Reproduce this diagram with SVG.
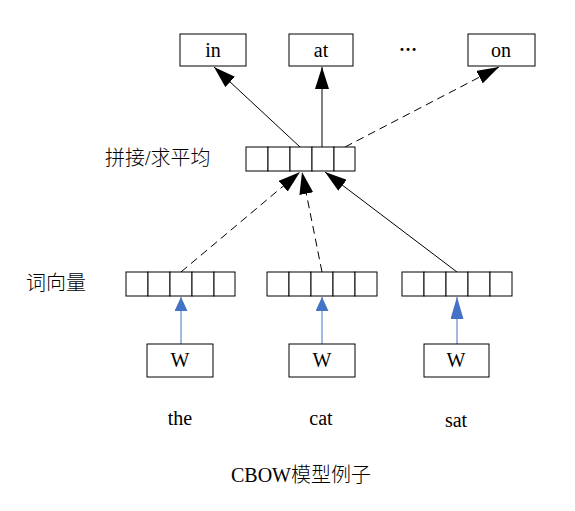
<svg xmlns="http://www.w3.org/2000/svg" width="575" height="511" viewBox="0 0 575 511">
<style>
.box{fill:#fff;stroke:#000;stroke-width:1}
.cell{fill:#fff;stroke:#000;stroke-width:1}
.t{font-family:"Liberation Serif","Noto Sans CJK SC",serif;font-size:20px;fill:#000;text-anchor:middle}
.cjk{font-family:"Liberation Serif","Noto Sans CJK SC",sans-serif;font-size:20px;font-weight:300;fill:#000}
.e{fill:none;stroke:#000;stroke-width:1}
.d{stroke-dasharray:8,5}
.b{fill:none;stroke:#4472C4;stroke-width:1}
</style>
<defs>
<marker id="ah" markerUnits="userSpaceOnUse" markerWidth="22" markerHeight="14" refX="22" refY="7" orient="auto" viewBox="0 0 22 14">
<path d="M0,0 L22,7 L0,14 Z" fill="#000"/>
</marker>
<marker id="bs" markerUnits="userSpaceOnUse" markerWidth="14" markerHeight="13" refX="14" refY="6.5" orient="auto" viewBox="0 0 14 13">
<path d="M0,0 L14,6.5 L0,13 Z" fill="#4472C4"/>
</marker>
<marker id="bl" markerUnits="userSpaceOnUse" markerWidth="22" markerHeight="13" refX="22" refY="6.5" orient="auto" viewBox="0 0 22 13">
<path d="M0,0 L22,6.5 L0,13 Z" fill="#4472C4"/>
</marker>
</defs>
<g id="connectors">
<line class="e" x1="300" y1="147" x2="214" y2="67" marker-end="url(#ah)"/>
<line class="e" x1="322" y1="147" x2="322" y2="67" marker-end="url(#ah)"/>
<line class="e d" x1="345" y1="147" x2="499" y2="67" marker-end="url(#ah)"/>
<line class="e d" x1="181" y1="272" x2="300" y2="172" marker-end="url(#ah)"/>
<line class="e d" x1="322" y1="272" x2="302" y2="172" marker-end="url(#ah)"/>
<line class="e" x1="457" y1="272" x2="325" y2="172" marker-end="url(#ah)"/>
<line class="b" x1="181" y1="344" x2="181" y2="297" marker-end="url(#bs)"/>
<line class="b" x1="322" y1="344" x2="322" y2="297" marker-end="url(#bs)"/>
<line class="b" x1="457" y1="344" x2="457" y2="297" marker-end="url(#bl)"/>
</g>
<g id="node-in"><rect class="box" x="180" y="34" width="66" height="32"/><text class="t" x="213" y="57">in</text></g>
<g id="node-at"><rect class="box" x="289" y="34" width="64" height="32"/><text class="t" x="321" y="57">at</text></g>
<g id="node-dots"><text class="t" x="408" y="51" style="font-size:18px;font-weight:bold">…</text></g>
<g id="node-on"><rect class="box" x="468" y="34" width="67" height="32"/><text class="t" x="501" y="57">on</text></g>
<g id="node-concat">
<rect class="cell" x="246" y="147" width="22" height="24"/>
<rect class="cell" x="268" y="147" width="22" height="24"/>
<rect class="cell" x="290" y="147" width="22" height="24"/>
<rect class="cell" x="312" y="147" width="22" height="24"/>
<rect class="cell" x="334" y="147" width="21" height="24"/>
</g>
<g id="label-concat"><text class="cjk" x="105" y="165">拼接/求平均</text></g>
<g id="label-vec"><text class="cjk" x="26" y="290">词向量</text></g>
<g id="node-vec1">
<rect class="cell" x="126" y="272" width="22" height="24"/>
<rect class="cell" x="148" y="272" width="22" height="24"/>
<rect class="cell" x="170" y="272" width="22" height="24"/>
<rect class="cell" x="192" y="272" width="22" height="24"/>
<rect class="cell" x="214" y="272" width="21" height="24"/>
</g>
<g id="node-vec2">
<rect class="cell" x="267" y="272" width="22" height="24"/>
<rect class="cell" x="289" y="272" width="22" height="24"/>
<rect class="cell" x="311" y="272" width="22" height="24"/>
<rect class="cell" x="333" y="272" width="22" height="24"/>
<rect class="cell" x="355" y="272" width="22" height="24"/>
</g>
<g id="node-vec3">
<rect class="cell" x="402" y="272" width="22" height="24"/>
<rect class="cell" x="424" y="272" width="22" height="24"/>
<rect class="cell" x="446" y="272" width="22" height="24"/>
<rect class="cell" x="468" y="272" width="22" height="24"/>
<rect class="cell" x="490" y="272" width="22" height="24"/>
</g>
<g id="node-w1"><rect class="box" x="147" y="344" width="66" height="33"/><text class="t" x="180" y="367">W</text></g>
<g id="node-w2"><rect class="box" x="289" y="344" width="66" height="33"/><text class="t" x="322" y="367">W</text></g>
<g id="node-w3"><rect class="box" x="424" y="344" width="65" height="33"/><text class="t" x="456" y="367">W</text></g>
<g id="word-the"><text class="t" x="180" y="425">the</text></g>
<g id="word-cat"><text class="t" x="321" y="425">cat</text></g>
<g id="word-sat"><text class="t" x="456" y="427">sat</text></g>
<g id="caption"><text class="t" x="301" y="482" style="font-weight:300">CBOW模型例子</text></g>
</svg>
